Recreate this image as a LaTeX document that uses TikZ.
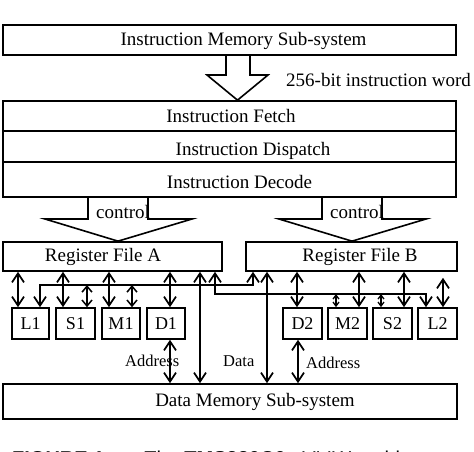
\documentclass[tikz,border=0pt]{standalone}
\usepackage{fontspec}
\setmainfont{Liberation Serif}
\newfontfamily\capfont{Liberation Sans}
\usetikzlibrary{arrows.meta}
\begin{document}
\begin{tikzpicture}[x=1pt,y=-1pt,
  box/.style={draw, line width=1.7pt, inner sep=0pt},
  unit/.style={box, minimum height=31pt, font=\fontsize{18}{21}\selectfont},
  txt/.style={font=\fontsize{19}{22}\selectfont, inner sep=0pt, anchor=base},
  lbl/.style={font=\fontsize{16.5}{19}\selectfont, inner sep=0pt, anchor=base west},
  hollow/.style={draw, line width=1.6pt, line join=miter},
  dbl/.style={line width=1.7pt, {Straight Barb[length=9pt,width=12pt]}-{Straight Barb[length=9pt,width=12pt]}},
  dbls/.style={line width=1.5pt, {Straight Barb[length=6pt,width=10pt]}-{Straight Barb[length=6pt,width=10pt]}},
  dblt/.style={line width=1.3pt, {Straight Barb[length=4pt,width=6pt]}-{Straight Barb[length=4pt,width=6pt]}}]
\useasboundingbox (0,0) rectangle (474,451);

% boxes
\node[box, minimum width=453pt, minimum height=30pt] (imem) at (229.5,40) {};
\node[txt] (imemt) at (243.5,45) {Instruction Memory Sub-system};
\node[box, minimum width=453pt, minimum height=30pt] (fetch) at (229.5,116) {};
\node[txt] (fetcht) at (231,122.7) {Instruction Fetch};
\node[box, minimum width=453pt, minimum height=31pt] (disp) at (229.5,146.5) {};
\node[txt] (dispt) at (253,155) {Instruction Dispatch};
\node[box, minimum width=453pt, minimum height=35pt] (dec) at (229.5,179.5) {};
\node[txt] (dect) at (239.5,188) {Instruction Decode};

\node[box, minimum width=219pt, minimum height=29pt] (rfa) at (112.5,256.5) {};
\node[txt] (rfat) at (103,261.7) {Register File A};
\node[box, minimum width=211pt, minimum height=29pt] (rfb) at (351.5,256.5) {};
\node[txt] (rfbt) at (360,261.7) {Register File B};

\node[unit, minimum width=37pt] (l1) at (30.5,323.5) {L1};
\node[unit, minimum width=39pt] (s1) at (75.5,323.5) {S1};
\node[unit, minimum width=38pt] (m1) at (121,323.5) {M1};
\node[unit, minimum width=38pt] (d1) at (166,323.5) {D1};
\node[unit, minimum width=39pt] (d2) at (302.5,323.5) {D2};
\node[unit, minimum width=39pt] (m2) at (347.5,323.5) {M2};
\node[unit, minimum width=39pt] (s2) at (392.5,323.5) {S2};
\node[unit, minimum width=39pt] (l2) at (437.5,323.5) {L2};

\node[box, minimum width=454pt, minimum height=35pt] (dm) at (230,401.5) {};
\node[txt] (dmt) at (255,406) {Data Memory Sub-system};

% instruction word arrow
\draw[hollow] (imem.south -| 226,0) -- (226,75) -- (207,75) -- (fetch.north -| 237.5,0)
  -- (268,75) -- (250,75) -- (imem.south -| 250,0);
\node[txt, anchor=base west] (iw) at (286,86) {256-bit instruction word};

% control arrows
\draw[hollow] (dec.south -| 88,0) -- (88,219) -- (45,219) -- (rfa.north -| 118,0)
  -- (192,219) -- (148,219) -- (dec.south -| 148,0);
\node[txt] (ca) at (123,218) {control};
\draw[hollow] (dec.south -| 322,0) -- (322,219) -- (279,219) -- (rfb.north -| 352,0)
  -- (426,219) -- (382,219) -- (dec.south -| 382,0);
\node[txt] (cb) at (357,218) {control};

% register file A to units
\draw[dbl] (rfa.south -| 18,0) -- (l1.north -| 18,0);
\draw[dbl] (rfa.south -| 63,0) -- (s1.north -| 63,0);
\draw[dbl] (rfa.south -| 109,0) -- (m1.north -| 109,0);
\draw[dbl] (rfa.south -| 170,0) -- (d1.north -| 170,0);
% register file B to units
\draw[dbl] (rfb.south -| 297,0) -- (d2.north -| 297,0);
\draw[dbl] (rfb.south -| 359,0) -- (m2.north -| 359,0);
\draw[dbl] (rfb.south -| 404,0) -- (s2.north -| 404,0);
\draw[dbl] ([yshift=-6pt]rfb.south -| 443,0) -- (l2.north -| 443,0);

% cross bus B -> L1, S1, M1
\draw[dbl] (rfb.south -| 253,0) |- (40,285) -- (l1.north -| 40,0);
\draw[dbls] (87,285) -- (s1.north -| 87,0);
\draw[dbls] (132,285) -- (m1.north -| 132,0);
% cross bus A -> L2, M2, S2
\draw[dbl] (rfa.south -| 215,0) |- (426,294) -- (l2.north -| 426,0);
\draw[dblt] (336,294) -- (m2.north -| 336,0);
\draw[dblt] (381,294) -- (s2.north -| 381,0);

% data memory connections
\draw[dbl] (rfa.south -| 200,0) -- (dm.north -| 200,0);
\draw[dbl] (rfb.south -| 267,0) -- (dm.north -| 267,0);
\draw[dbl] (d1.south -| 170,0) -- (dm.north -| 170,0);
\draw[dbl] (d2.south -| 298,0) -- (dm.north -| 298,0);
\node[lbl] (adra) at (125,366) {Address};
\node[lbl] (data) at (223,366) {Data};
\node[lbl] (adrb) at (306,368) {Address};

% caption (cut off by the page edge, as in the reference)
\node[anchor=base west, inner sep=0pt, font=\capfont\fontsize{20}{24}\selectfont] (cap) at (12,465)
  {\textbf{FIGURE 1}\hspace{40pt}The \textbf{TMS320C6x} VLIW architecture};
\end{tikzpicture}
\end{document}
